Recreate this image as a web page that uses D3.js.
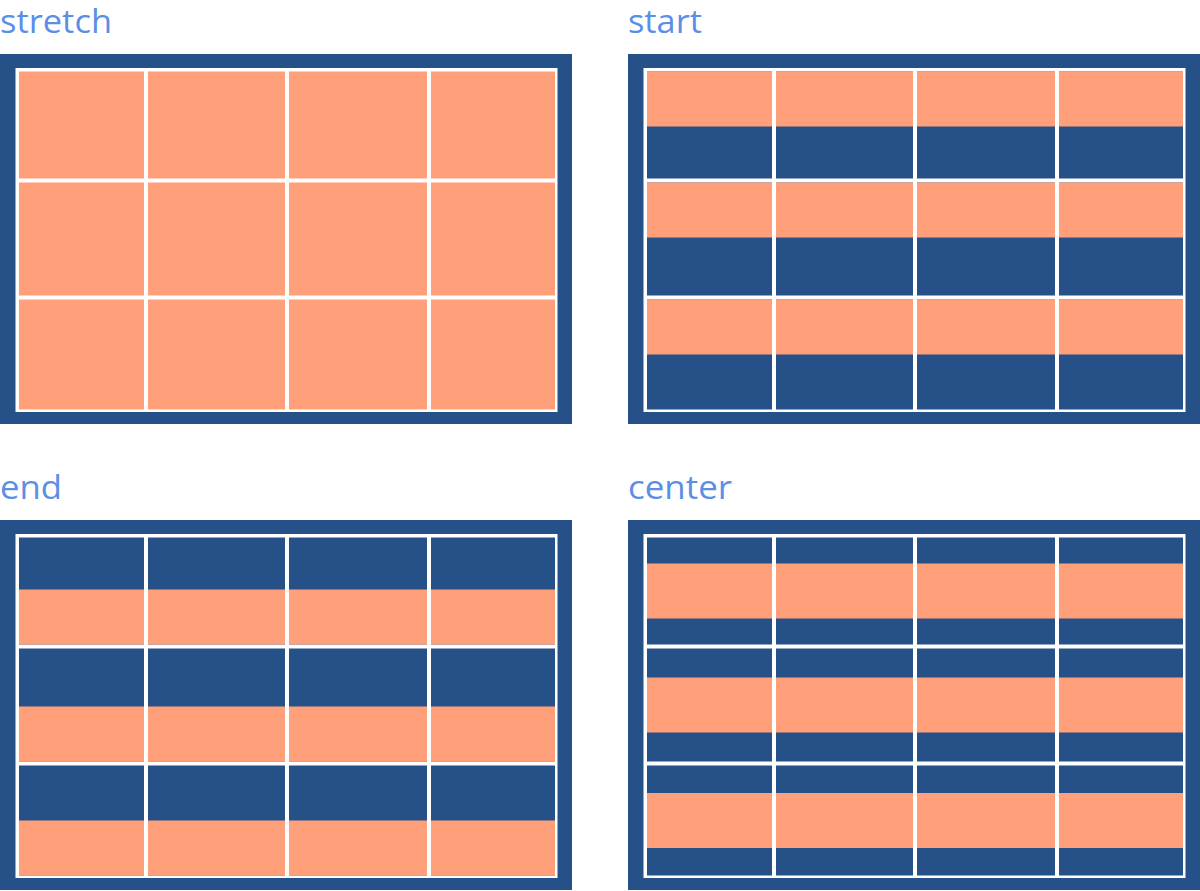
<!DOCTYPE html>
<html><head><meta charset="utf-8">
<script src="https://cdn.jsdelivr.net/npm/d3@7"></script>
<style>body{margin:0;background:#fff}</style></head>
<body><svg id="c" width="1200" height="891"></svg>
<script>
// panel modes and grid tracks
var modes = ["stretch", "start", "end", "center"]
var colStarts = [0, 129, 270, 412]
var colWidths = [125, 137, 138, 124]
var rowStarts = [0, 111, 228]
var rowHeights = [107, 113, 110]
var itemHeight = 55

var svg = d3.select("#c")
var blue = "#265088", orange = "#ffa07a", title = "#5b8fe6"
var panelX = [0, 628, 0, 628], panelY = [54, 54, 520, 520]

modes.forEach(function(mode, i){
    var g = svg.append("g").attr("transform", "translate(" + panelX[i] + "," + panelY[i] + ")")
    svg.append("text").attr("x", panelX[i]).attr("y", panelY[i] - 21)
        .attr("font-family", "Open Sans, sans-serif").attr("font-size", 32)
        .attr("textLength", [112, 74, 62, 104][i]).attr("lengthAdjust", "spacingAndGlyphs")
        .attr("fill", title).text(mode)
    g.append("rect").attr("width", 572).attr("height", 370).attr("fill", blue)
    g.append("rect").attr("x", 15.5).attr("y", 14).attr("width", 542).attr("height", 344).attr("fill", "#fff")

    var x = d3.scaleLinear().domain([0, 536]).range([19, 555])
    var y = d3.scaleLinear().domain([0, 338]).range([17.5, 355.5])

    var cells = []
    rowStarts.forEach(function(r, ri){
        colStarts.forEach(function(c, ci){ cells.push({r: r, h: rowHeights[ri], c: c, w: colWidths[ci]}) })
    })
    g.selectAll(".cell").data(cells).enter().append("rect")
        .attr("x", d => x(d.c)).attr("y", d => y(d.r))
        .attr("width", d => x(d.c + d.w) - x(d.c)).attr("height", d => y(d.r + d.h) - y(d.r))
        .attr("fill", mode == "stretch" ? orange : blue)
    if (mode != "stretch") {
        g.selectAll(".item").data(cells).enter().append("rect")
            .attr("x", d => x(d.c)).attr("width", d => x(d.c + d.w) - x(d.c))
            .attr("y", function(d){
                if (mode == "start") return y(d.r)
                if (mode == "end") return y(d.r + d.h - itemHeight)
                return y(d.r + (d.h - itemHeight) / 2)
            })
            .attr("height", itemHeight).attr("fill", orange)
    }
})
</script></body></html>
